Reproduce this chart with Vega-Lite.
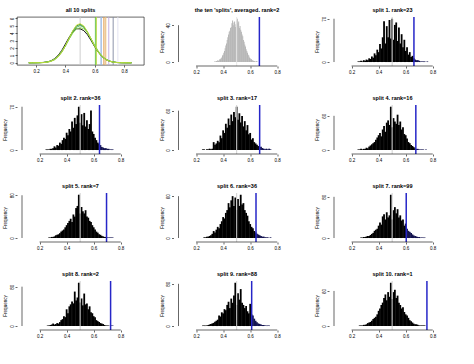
{
"$schema": "https://vega.github.io/schema/vega-lite/v6.json",
"background": "white",
"padding": {"left": 2, "top": 7, "right": 0, "bottom": 0},
"columns": 3,
"spacing": {"row": 21, "column": 13.5},
"datasets": {
"obs": [{"p":"s1","v":0.661},{"p":"s2","v":0.643},{"p":"s3","v":0.67},{"p":"s4","v":0.675},{"p":"s5","v":0.695},{"p":"s6","v":0.643},{"p":"s7","v":0.604},{"p":"s8","v":0.725},{"p":"s9","v":0.611},{"p":"s10","v":0.757},{"p":"avg","v":0.668}],
"d": [
{"c":"c1","x":0.15,"y":0},{"c":"c1","x":0.175,"y":0.002},{"c":"c1","x":0.2,"y":0.008},{"c":"c1","x":0.225,"y":0.02},{"c":"c1","x":0.25,"y":0.05},{"c":"c1","x":0.275,"y":0.12},{"c":"c1","x":0.3,"y":0.26},{"c":"c1","x":0.325,"y":0.55},{"c":"c1","x":0.35,"y":1.0},{"c":"c1","x":0.375,"y":1.68},{"c":"c1","x":0.4,"y":2.55},{"c":"c1","x":0.425,"y":3.45},{"c":"c1","x":0.45,"y":4.2},{"c":"c1","x":0.475,"y":4.6},{"c":"c1","x":0.5,"y":4.6},{"c":"c1","x":0.525,"y":4.35},{"c":"c1","x":0.55,"y":3.8},{"c":"c1","x":0.575,"y":3.0},{"c":"c1","x":0.6,"y":2.15},{"c":"c1","x":0.625,"y":1.4},{"c":"c1","x":0.65,"y":0.82},{"c":"c1","x":0.675,"y":0.44},{"c":"c1","x":0.7,"y":0.22},{"c":"c1","x":0.725,"y":0.1},{"c":"c1","x":0.75,"y":0.04},{"c":"c1","x":0.775,"y":0.015},{"c":"c1","x":0.8,"y":0.005},{"c":"c1","x":0.825,"y":0.001},{"c":"c1","x":0.85,"y":0},
{"c":"c2","x":0.15,"y":0},{"c":"c2","x":0.175,"y":0.001},{"c":"c2","x":0.2,"y":0.004},{"c":"c2","x":0.225,"y":0.012},{"c":"c2","x":0.25,"y":0.035},{"c":"c2","x":0.275,"y":0.09},{"c":"c2","x":0.3,"y":0.2},{"c":"c2","x":0.325,"y":0.42},{"c":"c2","x":0.35,"y":0.82},{"c":"c2","x":0.375,"y":1.45},{"c":"c2","x":0.4,"y":2.3},{"c":"c2","x":0.425,"y":3.3},{"c":"c2","x":0.45,"y":4.3},{"c":"c2","x":0.475,"y":5.0},{"c":"c2","x":0.5,"y":5.2},{"c":"c2","x":0.525,"y":4.9},{"c":"c2","x":0.55,"y":4.15},{"c":"c2","x":0.575,"y":3.2},{"c":"c2","x":0.6,"y":2.22},{"c":"c2","x":0.625,"y":1.42},{"c":"c2","x":0.65,"y":0.84},{"c":"c2","x":0.675,"y":0.45},{"c":"c2","x":0.7,"y":0.22},{"c":"c2","x":0.725,"y":0.1},{"c":"c2","x":0.75,"y":0.04},{"c":"c2","x":0.775,"y":0.014},{"c":"c2","x":0.8,"y":0.004},{"c":"c2","x":0.825,"y":0.001},{"c":"c2","x":0.85,"y":0},
{"c":"c3","x":0.15,"y":0},{"c":"c3","x":0.175,"y":0.001},{"c":"c3","x":0.2,"y":0.005},{"c":"c3","x":0.225,"y":0.014},{"c":"c3","x":0.25,"y":0.04},{"c":"c3","x":0.275,"y":0.1},{"c":"c3","x":0.3,"y":0.23},{"c":"c3","x":0.325,"y":0.47},{"c":"c3","x":0.35,"y":0.88},{"c":"c3","x":0.375,"y":1.5},{"c":"c3","x":0.4,"y":2.3},{"c":"c3","x":0.425,"y":3.25},{"c":"c3","x":0.45,"y":4.15},{"c":"c3","x":0.475,"y":4.8},{"c":"c3","x":0.5,"y":5.05},{"c":"c3","x":0.525,"y":4.8},{"c":"c3","x":0.55,"y":4.1},{"c":"c3","x":0.575,"y":3.15},{"c":"c3","x":0.6,"y":2.22},{"c":"c3","x":0.625,"y":1.44},{"c":"c3","x":0.65,"y":0.85},{"c":"c3","x":0.675,"y":0.46},{"c":"c3","x":0.7,"y":0.23},{"c":"c3","x":0.725,"y":0.1},{"c":"c3","x":0.75,"y":0.04},{"c":"c3","x":0.775,"y":0.013},{"c":"c3","x":0.8,"y":0.005},{"c":"c3","x":0.825,"y":0.001},{"c":"c3","x":0.85,"y":0},
{"c":"c4","x":0.15,"y":0},{"c":"c4","x":0.175,"y":0.002},{"c":"c4","x":0.2,"y":0.006},{"c":"c4","x":0.225,"y":0.016},{"c":"c4","x":0.25,"y":0.045},{"c":"c4","x":0.275,"y":0.11},{"c":"c4","x":0.3,"y":0.24},{"c":"c4","x":0.325,"y":0.5},{"c":"c4","x":0.35,"y":0.92},{"c":"c4","x":0.375,"y":1.55},{"c":"c4","x":0.4,"y":2.35},{"c":"c4","x":0.425,"y":3.2},{"c":"c4","x":0.45,"y":4.0},{"c":"c4","x":0.475,"y":4.6},{"c":"c4","x":0.5,"y":4.75},{"c":"c4","x":0.525,"y":4.6},{"c":"c4","x":0.55,"y":4.05},{"c":"c4","x":0.575,"y":3.25},{"c":"c4","x":0.6,"y":2.35},{"c":"c4","x":0.625,"y":1.55},{"c":"c4","x":0.65,"y":0.92},{"c":"c4","x":0.675,"y":0.5},{"c":"c4","x":0.7,"y":0.25},{"c":"c4","x":0.725,"y":0.11},{"c":"c4","x":0.75,"y":0.045},{"c":"c4","x":0.775,"y":0.015},{"c":"c4","x":0.8,"y":0.005},{"c":"c4","x":0.825,"y":0.001},{"c":"c4","x":0.85,"y":0},
{"c":"c5","x":0.15,"y":0},{"c":"c5","x":0.175,"y":0.001},{"c":"c5","x":0.2,"y":0.004},{"c":"c5","x":0.225,"y":0.01},{"c":"c5","x":0.25,"y":0.03},{"c":"c5","x":0.275,"y":0.08},{"c":"c5","x":0.3,"y":0.19},{"c":"c5","x":0.325,"y":0.4},{"c":"c5","x":0.35,"y":0.8},{"c":"c5","x":0.375,"y":1.42},{"c":"c5","x":0.4,"y":2.3},{"c":"c5","x":0.425,"y":3.35},{"c":"c5","x":0.45,"y":4.35},{"c":"c5","x":0.475,"y":5.1},{"c":"c5","x":0.5,"y":5.3},{"c":"c5","x":0.525,"y":5.0},{"c":"c5","x":0.55,"y":4.2},{"c":"c5","x":0.575,"y":3.2},{"c":"c5","x":0.6,"y":2.2},{"c":"c5","x":0.625,"y":1.38},{"c":"c5","x":0.65,"y":0.8},{"c":"c5","x":0.675,"y":0.42},{"c":"c5","x":0.7,"y":0.2},{"c":"c5","x":0.725,"y":0.09},{"c":"c5","x":0.75,"y":0.035},{"c":"c5","x":0.775,"y":0.012},{"c":"c5","x":0.8,"y":0.004},{"c":"c5","x":0.825,"y":0.001},{"c":"c5","x":0.85,"y":0}
],
"h": [
{"p":"avg","x":0.34,"n":1},{"p":"avg","x":0.35,"n":1},{"p":"avg","x":0.355,"n":1},{"p":"avg","x":0.36,"n":2},{"p":"avg","x":0.365,"n":1},{"p":"avg","x":0.37,"n":2},{"p":"avg","x":0.375,"n":3},{"p":"avg","x":0.38,"n":3},{"p":"avg","x":0.385,"n":4},{"p":"avg","x":0.39,"n":5},{"p":"avg","x":0.395,"n":7},{"p":"avg","x":0.4,"n":8},{"p":"avg","x":0.405,"n":10},{"p":"avg","x":0.41,"n":12},{"p":"avg","x":0.415,"n":15},{"p":"avg","x":0.42,"n":18},{"p":"avg","x":0.425,"n":20},{"p":"avg","x":0.43,"n":24},{"p":"avg","x":0.435,"n":27},{"p":"avg","x":0.44,"n":30},{"p":"avg","x":0.445,"n":33},{"p":"avg","x":0.45,"n":34},{"p":"avg","x":0.455,"n":37},{"p":"avg","x":0.46,"n":38},{"p":"avg","x":0.465,"n":42},{"p":"avg","x":0.47,"n":45},{"p":"avg","x":0.475,"n":40},{"p":"avg","x":0.48,"n":43},{"p":"avg","x":0.485,"n":44},{"p":"avg","x":0.49,"n":38},{"p":"avg","x":0.495,"n":41},{"p":"avg","x":0.5,"n":45},{"p":"avg","x":0.505,"n":47},{"p":"avg","x":0.51,"n":42},{"p":"avg","x":0.515,"n":44},{"p":"avg","x":0.52,"n":37},{"p":"avg","x":0.525,"n":39},{"p":"avg","x":0.53,"n":35},{"p":"avg","x":0.535,"n":33},{"p":"avg","x":0.54,"n":30},{"p":"avg","x":0.545,"n":28},{"p":"avg","x":0.55,"n":24},{"p":"avg","x":0.555,"n":22},{"p":"avg","x":0.56,"n":19},{"p":"avg","x":0.565,"n":17},{"p":"avg","x":0.57,"n":14},{"p":"avg","x":0.575,"n":12},{"p":"avg","x":0.58,"n":10},{"p":"avg","x":0.585,"n":8},{"p":"avg","x":0.59,"n":7},{"p":"avg","x":0.595,"n":5},{"p":"avg","x":0.6,"n":4},{"p":"avg","x":0.605,"n":3},{"p":"avg","x":0.61,"n":3},{"p":"avg","x":0.615,"n":2},{"p":"avg","x":0.62,"n":2},{"p":"avg","x":0.625,"n":1},{"p":"avg","x":0.63,"n":1},{"p":"avg","x":0.635,"n":1},{"p":"avg","x":0.645,"n":1},{"p":"avg","x":0.65,"n":1},
{"p":"s1","x":0.25,"n":1},{"p":"s1","x":0.26,"n":1},{"p":"s1","x":0.27,"n":2},{"p":"s1","x":0.28,"n":1},{"p":"s1","x":0.29,"n":3},{"p":"s1","x":0.3,"n":2},{"p":"s1","x":0.31,"n":4},{"p":"s1","x":0.32,"n":3},{"p":"s1","x":0.33,"n":6},{"p":"s1","x":0.34,"n":5},{"p":"s1","x":0.35,"n":9},{"p":"s1","x":0.36,"n":7},{"p":"s1","x":0.37,"n":14},{"p":"s1","x":0.38,"n":11},{"p":"s1","x":0.39,"n":20},{"p":"s1","x":0.4,"n":16},{"p":"s1","x":0.41,"n":29},{"p":"s1","x":0.42,"n":22},{"p":"s1","x":0.43,"n":40},{"p":"s1","x":0.44,"n":66},{"p":"s1","x":0.45,"n":30},{"p":"s1","x":0.46,"n":58},{"p":"s1","x":0.47,"n":40},{"p":"s1","x":0.48,"n":68},{"p":"s1","x":0.49,"n":38},{"p":"s1","x":0.5,"n":70},{"p":"s1","x":0.51,"n":36},{"p":"s1","x":0.52,"n":60},{"p":"s1","x":0.53,"n":64},{"p":"s1","x":0.54,"n":34},{"p":"s1","x":0.55,"n":56},{"p":"s1","x":0.56,"n":30},{"p":"s1","x":0.57,"n":45},{"p":"s1","x":0.58,"n":24},{"p":"s1","x":0.59,"n":36},{"p":"s1","x":0.6,"n":18},{"p":"s1","x":0.61,"n":24},{"p":"s1","x":0.62,"n":12},{"p":"s1","x":0.63,"n":16},{"p":"s1","x":0.64,"n":8},{"p":"s1","x":0.65,"n":10},{"p":"s1","x":0.66,"n":6},{"p":"s1","x":0.67,"n":4},{"p":"s1","x":0.68,"n":3},{"p":"s1","x":0.69,"n":3},{"p":"s1","x":0.7,"n":2},{"p":"s1","x":0.71,"n":1},{"p":"s1","x":0.72,"n":1},{"p":"s1","x":0.73,"n":1},{"p":"s1","x":0.74,"n":1},{"p":"s1","x":0.76,"n":1},
{"p":"s2","x":0.25,"n":1},{"p":"s2","x":0.26,"n":1},{"p":"s2","x":0.27,"n":1},{"p":"s2","x":0.28,"n":2},{"p":"s2","x":0.29,"n":2},{"p":"s2","x":0.3,"n":3},{"p":"s2","x":0.31,"n":6},{"p":"s2","x":0.32,"n":4},{"p":"s2","x":0.33,"n":8},{"p":"s2","x":0.34,"n":7},{"p":"s2","x":0.35,"n":12},{"p":"s2","x":0.36,"n":10},{"p":"s2","x":0.37,"n":16},{"p":"s2","x":0.38,"n":20},{"p":"s2","x":0.39,"n":18},{"p":"s2","x":0.4,"n":28},{"p":"s2","x":0.41,"n":24},{"p":"s2","x":0.42,"n":34},{"p":"s2","x":0.43,"n":30},{"p":"s2","x":0.44,"n":46},{"p":"s2","x":0.45,"n":36},{"p":"s2","x":0.46,"n":52},{"p":"s2","x":0.47,"n":42},{"p":"s2","x":0.48,"n":56},{"p":"s2","x":0.49,"n":70},{"p":"s2","x":0.5,"n":44},{"p":"s2","x":0.51,"n":58},{"p":"s2","x":0.52,"n":40},{"p":"s2","x":0.53,"n":60},{"p":"s2","x":0.54,"n":38},{"p":"s2","x":0.55,"n":48},{"p":"s2","x":0.56,"n":34},{"p":"s2","x":0.57,"n":42},{"p":"s2","x":0.58,"n":64},{"p":"s2","x":0.59,"n":30},{"p":"s2","x":0.6,"n":26},{"p":"s2","x":0.61,"n":20},{"p":"s2","x":0.62,"n":16},{"p":"s2","x":0.63,"n":12},{"p":"s2","x":0.64,"n":10},{"p":"s2","x":0.65,"n":8},{"p":"s2","x":0.66,"n":5},{"p":"s2","x":0.67,"n":4},{"p":"s2","x":0.68,"n":3},{"p":"s2","x":0.69,"n":3},{"p":"s2","x":0.7,"n":2},{"p":"s2","x":0.71,"n":2},{"p":"s2","x":0.72,"n":1},{"p":"s2","x":0.73,"n":1},{"p":"s2","x":0.74,"n":1},
{"p":"s3","x":0.25,"n":1},{"p":"s3","x":0.26,"n":1},{"p":"s3","x":0.28,"n":1},{"p":"s3","x":0.29,"n":1},{"p":"s3","x":0.3,"n":2},{"p":"s3","x":0.31,"n":1},{"p":"s3","x":0.32,"n":2},{"p":"s3","x":0.33,"n":12},{"p":"s3","x":0.34,"n":8},{"p":"s3","x":0.35,"n":10},{"p":"s3","x":0.36,"n":14},{"p":"s3","x":0.37,"n":12},{"p":"s3","x":0.38,"n":22},{"p":"s3","x":0.39,"n":18},{"p":"s3","x":0.4,"n":30},{"p":"s3","x":0.41,"n":26},{"p":"s3","x":0.42,"n":40},{"p":"s3","x":0.43,"n":34},{"p":"s3","x":0.44,"n":48},{"p":"s3","x":0.45,"n":38},{"p":"s3","x":0.46,"n":54},{"p":"s3","x":0.47,"n":44},{"p":"s3","x":0.48,"n":58},{"p":"s3","x":0.49,"n":50},{"p":"s3","x":0.5,"n":66},{"p":"s3","x":0.51,"n":46},{"p":"s3","x":0.52,"n":56},{"p":"s3","x":0.53,"n":42},{"p":"s3","x":0.54,"n":52},{"p":"s3","x":0.55,"n":36},{"p":"s3","x":0.56,"n":44},{"p":"s3","x":0.57,"n":30},{"p":"s3","x":0.58,"n":38},{"p":"s3","x":0.59,"n":24},{"p":"s3","x":0.6,"n":26},{"p":"s3","x":0.61,"n":16},{"p":"s3","x":0.62,"n":18},{"p":"s3","x":0.63,"n":12},{"p":"s3","x":0.64,"n":10},{"p":"s3","x":0.65,"n":8},{"p":"s3","x":0.66,"n":6},{"p":"s3","x":0.67,"n":4},{"p":"s3","x":0.68,"n":5},{"p":"s3","x":0.69,"n":3},{"p":"s3","x":0.7,"n":2},{"p":"s3","x":0.71,"n":1},{"p":"s3","x":0.72,"n":2},{"p":"s3","x":0.73,"n":1},{"p":"s3","x":0.74,"n":2},{"p":"s3","x":0.75,"n":1},
{"p":"s4","x":0.25,"n":1},{"p":"s4","x":0.26,"n":1},{"p":"s4","x":0.27,"n":2},{"p":"s4","x":0.28,"n":1},{"p":"s4","x":0.29,"n":2},{"p":"s4","x":0.3,"n":2},{"p":"s4","x":0.31,"n":4},{"p":"s4","x":0.32,"n":3},{"p":"s4","x":0.33,"n":6},{"p":"s4","x":0.34,"n":8},{"p":"s4","x":0.35,"n":10},{"p":"s4","x":0.36,"n":12},{"p":"s4","x":0.37,"n":14},{"p":"s4","x":0.38,"n":18},{"p":"s4","x":0.39,"n":22},{"p":"s4","x":0.4,"n":26},{"p":"s4","x":0.41,"n":30},{"p":"s4","x":0.42,"n":24},{"p":"s4","x":0.43,"n":36},{"p":"s4","x":0.44,"n":42},{"p":"s4","x":0.45,"n":32},{"p":"s4","x":0.46,"n":48},{"p":"s4","x":0.47,"n":52},{"p":"s4","x":0.48,"n":44},{"p":"s4","x":0.49,"n":76},{"p":"s4","x":0.5,"n":40},{"p":"s4","x":0.51,"n":56},{"p":"s4","x":0.52,"n":50},{"p":"s4","x":0.53,"n":46},{"p":"s4","x":0.54,"n":62},{"p":"s4","x":0.55,"n":44},{"p":"s4","x":0.56,"n":50},{"p":"s4","x":0.57,"n":36},{"p":"s4","x":0.58,"n":40},{"p":"s4","x":0.59,"n":28},{"p":"s4","x":0.6,"n":26},{"p":"s4","x":0.61,"n":20},{"p":"s4","x":0.62,"n":14},{"p":"s4","x":0.63,"n":12},{"p":"s4","x":0.64,"n":9},{"p":"s4","x":0.65,"n":7},{"p":"s4","x":0.66,"n":5},{"p":"s4","x":0.67,"n":3},{"p":"s4","x":0.68,"n":2},{"p":"s4","x":0.69,"n":2},{"p":"s4","x":0.7,"n":1},{"p":"s4","x":0.71,"n":1},{"p":"s4","x":0.72,"n":1},{"p":"s4","x":0.73,"n":1},{"p":"s4","x":0.75,"n":1},
{"p":"s5","x":0.27,"n":1},{"p":"s5","x":0.28,"n":1},{"p":"s5","x":0.29,"n":2},{"p":"s5","x":0.3,"n":2},{"p":"s5","x":0.31,"n":3},{"p":"s5","x":0.32,"n":5},{"p":"s5","x":0.33,"n":6},{"p":"s5","x":0.34,"n":7},{"p":"s5","x":0.35,"n":9},{"p":"s5","x":0.36,"n":12},{"p":"s5","x":0.37,"n":14},{"p":"s5","x":0.38,"n":16},{"p":"s5","x":0.39,"n":20},{"p":"s5","x":0.4,"n":24},{"p":"s5","x":0.41,"n":28},{"p":"s5","x":0.42,"n":32},{"p":"s5","x":0.43,"n":36},{"p":"s5","x":0.44,"n":30},{"p":"s5","x":0.45,"n":44},{"p":"s5","x":0.46,"n":40},{"p":"s5","x":0.47,"n":56},{"p":"s5","x":0.48,"n":60},{"p":"s5","x":0.49,"n":81},{"p":"s5","x":0.5,"n":46},{"p":"s5","x":0.51,"n":58},{"p":"s5","x":0.52,"n":50},{"p":"s5","x":0.53,"n":46},{"p":"s5","x":0.54,"n":52},{"p":"s5","x":0.55,"n":40},{"p":"s5","x":0.56,"n":38},{"p":"s5","x":0.57,"n":32},{"p":"s5","x":0.58,"n":30},{"p":"s5","x":0.59,"n":24},{"p":"s5","x":0.6,"n":20},{"p":"s5","x":0.61,"n":16},{"p":"s5","x":0.62,"n":12},{"p":"s5","x":0.63,"n":10},{"p":"s5","x":0.64,"n":7},{"p":"s5","x":0.65,"n":6},{"p":"s5","x":0.66,"n":4},{"p":"s5","x":0.67,"n":3},{"p":"s5","x":0.68,"n":2},{"p":"s5","x":0.69,"n":2},{"p":"s5","x":0.7,"n":1},{"p":"s5","x":0.71,"n":1},{"p":"s5","x":0.72,"n":1},{"p":"s5","x":0.73,"n":1},{"p":"s5","x":0.74,"n":1},
{"p":"s6","x":0.26,"n":1},{"p":"s6","x":0.27,"n":1},{"p":"s6","x":0.28,"n":2},{"p":"s6","x":0.29,"n":2},{"p":"s6","x":0.3,"n":3},{"p":"s6","x":0.31,"n":4},{"p":"s6","x":0.32,"n":6},{"p":"s6","x":0.33,"n":10},{"p":"s6","x":0.34,"n":8},{"p":"s6","x":0.35,"n":12},{"p":"s6","x":0.36,"n":16},{"p":"s6","x":0.37,"n":14},{"p":"s6","x":0.38,"n":20},{"p":"s6","x":0.39,"n":24},{"p":"s6","x":0.4,"n":30},{"p":"s6","x":0.41,"n":28},{"p":"s6","x":0.42,"n":36},{"p":"s6","x":0.43,"n":40},{"p":"s6","x":0.44,"n":50},{"p":"s6","x":0.45,"n":44},{"p":"s6","x":0.46,"n":54},{"p":"s6","x":0.47,"n":60},{"p":"s6","x":0.48,"n":46},{"p":"s6","x":0.49,"n":58},{"p":"s6","x":0.5,"n":40},{"p":"s6","x":0.51,"n":56},{"p":"s6","x":0.52,"n":46},{"p":"s6","x":0.53,"n":62},{"p":"s6","x":0.54,"n":48},{"p":"s6","x":0.55,"n":50},{"p":"s6","x":0.56,"n":40},{"p":"s6","x":0.57,"n":36},{"p":"s6","x":0.58,"n":32},{"p":"s6","x":0.59,"n":24},{"p":"s6","x":0.6,"n":20},{"p":"s6","x":0.61,"n":16},{"p":"s6","x":0.62,"n":14},{"p":"s6","x":0.63,"n":10},{"p":"s6","x":0.64,"n":8},{"p":"s6","x":0.65,"n":6},{"p":"s6","x":0.66,"n":5},{"p":"s6","x":0.67,"n":4},{"p":"s6","x":0.68,"n":3},{"p":"s6","x":0.69,"n":2},{"p":"s6","x":0.7,"n":2},{"p":"s6","x":0.71,"n":1},{"p":"s6","x":0.72,"n":1},{"p":"s6","x":0.73,"n":1},{"p":"s6","x":0.75,"n":1},
{"p":"s7","x":0.27,"n":1},{"p":"s7","x":0.28,"n":1},{"p":"s7","x":0.29,"n":2},{"p":"s7","x":0.3,"n":2},{"p":"s7","x":0.31,"n":3},{"p":"s7","x":0.32,"n":4},{"p":"s7","x":0.33,"n":4},{"p":"s7","x":0.34,"n":6},{"p":"s7","x":0.35,"n":8},{"p":"s7","x":0.36,"n":10},{"p":"s7","x":0.37,"n":14},{"p":"s7","x":0.38,"n":16},{"p":"s7","x":0.39,"n":18},{"p":"s7","x":0.4,"n":24},{"p":"s7","x":0.41,"n":30},{"p":"s7","x":0.42,"n":26},{"p":"s7","x":0.43,"n":42},{"p":"s7","x":0.44,"n":46},{"p":"s7","x":0.45,"n":36},{"p":"s7","x":0.46,"n":50},{"p":"s7","x":0.47,"n":40},{"p":"s7","x":0.48,"n":44},{"p":"s7","x":0.49,"n":84},{"p":"s7","x":0.5,"n":36},{"p":"s7","x":0.51,"n":54},{"p":"s7","x":0.52,"n":60},{"p":"s7","x":0.53,"n":48},{"p":"s7","x":0.54,"n":56},{"p":"s7","x":0.55,"n":40},{"p":"s7","x":0.56,"n":44},{"p":"s7","x":0.57,"n":34},{"p":"s7","x":0.58,"n":36},{"p":"s7","x":0.59,"n":24},{"p":"s7","x":0.6,"n":28},{"p":"s7","x":0.61,"n":18},{"p":"s7","x":0.62,"n":14},{"p":"s7","x":0.63,"n":12},{"p":"s7","x":0.64,"n":10},{"p":"s7","x":0.65,"n":7},{"p":"s7","x":0.66,"n":5},{"p":"s7","x":0.67,"n":4},{"p":"s7","x":0.68,"n":3},{"p":"s7","x":0.69,"n":2},{"p":"s7","x":0.7,"n":2},{"p":"s7","x":0.71,"n":1},{"p":"s7","x":0.72,"n":1},{"p":"s7","x":0.73,"n":1},{"p":"s7","x":0.74,"n":1},
{"p":"s8","x":0.26,"n":1},{"p":"s8","x":0.27,"n":1},{"p":"s8","x":0.28,"n":2},{"p":"s8","x":0.29,"n":3},{"p":"s8","x":0.3,"n":5},{"p":"s8","x":0.31,"n":3},{"p":"s8","x":0.32,"n":4},{"p":"s8","x":0.33,"n":6},{"p":"s8","x":0.34,"n":5},{"p":"s8","x":0.35,"n":8},{"p":"s8","x":0.36,"n":12},{"p":"s8","x":0.37,"n":14},{"p":"s8","x":0.38,"n":20},{"p":"s8","x":0.39,"n":18},{"p":"s8","x":0.4,"n":34},{"p":"s8","x":0.41,"n":26},{"p":"s8","x":0.42,"n":40},{"p":"s8","x":0.43,"n":44},{"p":"s8","x":0.44,"n":50},{"p":"s8","x":0.45,"n":46},{"p":"s8","x":0.46,"n":70},{"p":"s8","x":0.47,"n":52},{"p":"s8","x":0.48,"n":58},{"p":"s8","x":0.49,"n":88},{"p":"s8","x":0.5,"n":48},{"p":"s8","x":0.51,"n":56},{"p":"s8","x":0.52,"n":42},{"p":"s8","x":0.53,"n":66},{"p":"s8","x":0.54,"n":44},{"p":"s8","x":0.55,"n":46},{"p":"s8","x":0.56,"n":34},{"p":"s8","x":0.57,"n":40},{"p":"s8","x":0.58,"n":28},{"p":"s8","x":0.59,"n":26},{"p":"s8","x":0.6,"n":20},{"p":"s8","x":0.61,"n":18},{"p":"s8","x":0.62,"n":12},{"p":"s8","x":0.63,"n":10},{"p":"s8","x":0.64,"n":8},{"p":"s8","x":0.65,"n":6},{"p":"s8","x":0.66,"n":5},{"p":"s8","x":0.67,"n":4},{"p":"s8","x":0.68,"n":2},{"p":"s8","x":0.69,"n":1},{"p":"s8","x":0.7,"n":1},{"p":"s8","x":0.71,"n":1},{"p":"s8","x":0.73,"n":1},{"p":"s8","x":0.74,"n":1},
{"p":"s9","x":0.25,"n":1},{"p":"s9","x":0.26,"n":1},{"p":"s9","x":0.27,"n":1},{"p":"s9","x":0.28,"n":1},{"p":"s9","x":0.29,"n":2},{"p":"s9","x":0.3,"n":3},{"p":"s9","x":0.31,"n":4},{"p":"s9","x":0.32,"n":5},{"p":"s9","x":0.33,"n":6},{"p":"s9","x":0.34,"n":8},{"p":"s9","x":0.35,"n":10},{"p":"s9","x":0.36,"n":12},{"p":"s9","x":0.37,"n":20},{"p":"s9","x":0.38,"n":18},{"p":"s9","x":0.39,"n":26},{"p":"s9","x":0.4,"n":24},{"p":"s9","x":0.41,"n":32},{"p":"s9","x":0.42,"n":30},{"p":"s9","x":0.43,"n":40},{"p":"s9","x":0.44,"n":46},{"p":"s9","x":0.45,"n":34},{"p":"s9","x":0.46,"n":52},{"p":"s9","x":0.47,"n":44},{"p":"s9","x":0.48,"n":58},{"p":"s9","x":0.49,"n":82},{"p":"s9","x":0.5,"n":40},{"p":"s9","x":0.51,"n":62},{"p":"s9","x":0.52,"n":50},{"p":"s9","x":0.53,"n":70},{"p":"s9","x":0.54,"n":44},{"p":"s9","x":0.55,"n":40},{"p":"s9","x":0.56,"n":34},{"p":"s9","x":0.57,"n":38},{"p":"s9","x":0.58,"n":28},{"p":"s9","x":0.59,"n":24},{"p":"s9","x":0.6,"n":42},{"p":"s9","x":0.61,"n":22},{"p":"s9","x":0.62,"n":20},{"p":"s9","x":0.63,"n":14},{"p":"s9","x":0.64,"n":10},{"p":"s9","x":0.65,"n":7},{"p":"s9","x":0.66,"n":5},{"p":"s9","x":0.67,"n":4},{"p":"s9","x":0.68,"n":3},{"p":"s9","x":0.69,"n":2},{"p":"s9","x":0.7,"n":2},{"p":"s9","x":0.71,"n":1},{"p":"s9","x":0.72,"n":1},{"p":"s9","x":0.73,"n":1},{"p":"s9","x":0.74,"n":1},
{"p":"s10","x":0.26,"n":1},{"p":"s10","x":0.27,"n":1},{"p":"s10","x":0.28,"n":1},{"p":"s10","x":0.29,"n":2},{"p":"s10","x":0.3,"n":2},{"p":"s10","x":0.31,"n":3},{"p":"s10","x":0.32,"n":5},{"p":"s10","x":0.33,"n":6},{"p":"s10","x":0.34,"n":7},{"p":"s10","x":0.35,"n":9},{"p":"s10","x":0.36,"n":12},{"p":"s10","x":0.37,"n":14},{"p":"s10","x":0.38,"n":16},{"p":"s10","x":0.39,"n":20},{"p":"s10","x":0.4,"n":26},{"p":"s10","x":0.41,"n":30},{"p":"s10","x":0.42,"n":36},{"p":"s10","x":0.43,"n":40},{"p":"s10","x":0.44,"n":48},{"p":"s10","x":0.45,"n":54},{"p":"s10","x":0.46,"n":44},{"p":"s10","x":0.47,"n":58},{"p":"s10","x":0.48,"n":50},{"p":"s10","x":0.49,"n":74},{"p":"s10","x":0.5,"n":46},{"p":"s10","x":0.51,"n":58},{"p":"s10","x":0.52,"n":62},{"p":"s10","x":0.53,"n":48},{"p":"s10","x":0.54,"n":52},{"p":"s10","x":0.55,"n":40},{"p":"s10","x":0.56,"n":36},{"p":"s10","x":0.57,"n":30},{"p":"s10","x":0.58,"n":32},{"p":"s10","x":0.59,"n":24},{"p":"s10","x":0.6,"n":20},{"p":"s10","x":0.61,"n":18},{"p":"s10","x":0.62,"n":14},{"p":"s10","x":0.63,"n":10},{"p":"s10","x":0.64,"n":8},{"p":"s10","x":0.65,"n":6},{"p":"s10","x":0.66,"n":4},{"p":"s10","x":0.67,"n":3},{"p":"s10","x":0.68,"n":3},{"p":"s10","x":0.69,"n":2},{"p":"s10","x":0.7,"n":1},{"p":"s10","x":0.71,"n":1},{"p":"s10","x":0.72,"n":1},{"p":"s10","x":0.73,"n":1},{"p":"s10","x":0.74,"n":1}
]
},
"concat": [
{"title":"all 10 splits","width":127,"height":48,"view":{"stroke":"black","strokeWidth":0.6},
 "layer":[
  {"data":{"name":"obs"},"transform":[{"filter":"datum.p!='avg'"}],"mark":{"type":"rule","strokeWidth":0.9},
   "encoding":{"x":{"field":"v","type":"quantitative","scale":{"domain":[0.07,0.935],"nice":false,"zero":false},"axis":{"values":[0.2,0.4,0.6,0.8],"format":".1f","domain":false,"title":null}},
   "color":{"field":"p","type":"nominal","scale":{"domain":["s1","s2","s3","s4","s5","s6","s7","s8","s9","s10"],"range":["#e8a050","#a8c0e8","#d8b070","#f0c080","#c0a8e0","#98b8e0","#5cc040","#8088a0","#b8d840","#e0e0f0"]},"legend":null}}},
  {"data":{"values":[{}]},"mark":{"type":"rule","color":"#c8c8c8","strokeWidth":0.9},"encoding":{"x":{"datum":0.5}}},
  {"data":{"name":"d"},"mark":{"type":"line","strokeWidth":0.9},
   "encoding":{"x":{"field":"x","type":"quantitative"},"y":{"field":"y","type":"quantitative","scale":{"domain":[-0.3,6.2],"nice":false,"zero":false},"axis":{"values":[0,1,2,3,4,5,6],"domain":false,"title":null}},
   "color":{"field":"c","type":"nominal","scale":{"domain":["c1","c2","c3","c4","c5"],"range":["black","#1f7a1f","#3cb043","#8fd14f","#c5e03a"]},"legend":null}}}
 ],
 "resolve":{"scale":{"color":"independent"}}},
{"title":"the ten 'splits', averaged. rank=2","width":127,"height":49,
 "layer":[
  {"data":{"name":"h"},"transform":[{"filter":"datum.p=='avg'"}],"mark":{"type":"bar","width":0.95,"color":"#b4b4b4"},
   "encoding":{"x":{"field":"x","type":"quantitative","scale":{"domain":[0.07,0.935],"nice":false,"zero":false},"axis":{"values":[0.2,0.4,0.6,0.8],"format":".1f","domain":false,"title":null}},
   "y":{"field":"n","type":"quantitative","scale":{"domain":[-4.3,48.9],"nice":false,"zero":false},"axis":{"values":[0,10,20,30,40],"domain":false,"title":"Frequency"}}}},
  {"data":{"values":[{}]},"mark":{"type":"rule","color":"#e6e6e6","strokeWidth":1},"encoding":{"x":{"datum":0.5}}},
  {"data":{"name":"obs"},"transform":[{"filter":"datum.p=='avg'"}],"mark":{"type":"rule","color":"#2626c8","strokeWidth":1.5},"encoding":{"x":{"field":"v","type":"quantitative"}}},
  {"data":{"values":[{}]},"mark":{"type":"rule","color":"black","strokeWidth":0.6},"encoding":{"x":{"datum":0.2},"x2":{"datum":0.8},"y":{"datum":-4.3}}},
  {"data":{"values":[{}]},"mark":{"type":"rule","color":"black","strokeWidth":0.6},"encoding":{"x":{"datum":0.07},"y":{"datum":0},"y2":{"datum":40}}}
 ]},
{"title":"split 1. rank=23","width":127,"height":49,
 "layer":[
  {"data":{"name":"h"},"transform":[{"filter":"datum.p=='s1'"},{"lookup":"p","from":{"data":{"name":"obs"},"key":"p","fields":["v"]}}],"mark":{"type":"bar","width":1.8},
   "encoding":{"x":{"field":"x","type":"quantitative","scale":{"domain":[0.07,0.935],"nice":false,"zero":false},"axis":{"values":[0.2,0.4,0.6,0.8],"format":".1f","domain":false,"title":null}},
   "y":{"field":"n","type":"quantitative","scale":{"domain":[-6.4,72.8],"nice":false,"zero":false},"axis":{"values":[0,10,20,30,40,50,60,70],"domain":false,"title":"Frequency"}},
   "color":{"condition":{"test":"datum.x>=datum.v","value":"#141450"},"value":"black"}}},
  {"data":{"values":[{}]},"mark":{"type":"rule","color":"#d0d0d0","strokeWidth":1},"encoding":{"x":{"datum":0.5}}},
  {"data":{"name":"obs"},"transform":[{"filter":"datum.p=='s1'"}],"mark":{"type":"rule","color":"#2626c8","strokeWidth":1.5},"encoding":{"x":{"field":"v","type":"quantitative"}}},
  {"data":{"values":[{}]},"mark":{"type":"rule","color":"black","strokeWidth":0.6},"encoding":{"x":{"datum":0.2},"x2":{"datum":0.8},"y":{"datum":-6.4}}},
  {"data":{"values":[{}]},"mark":{"type":"rule","color":"black","strokeWidth":0.6},"encoding":{"x":{"datum":0.07},"y":{"datum":0},"y2":{"datum":70}}}
 ]},
{"title":"split 2. rank=36","width":127,"height":49,
 "layer":[
  {"data":{"name":"h"},"transform":[{"filter":"datum.p=='s2'"},{"lookup":"p","from":{"data":{"name":"obs"},"key":"p","fields":["v"]}}],"mark":{"type":"bar","width":1.8},
   "encoding":{"x":{"field":"x","type":"quantitative","scale":{"domain":[0.07,0.935],"nice":false,"zero":false},"axis":{"values":[0.2,0.4,0.6,0.8],"format":".1f","domain":false,"title":null}},
   "y":{"field":"n","type":"quantitative","scale":{"domain":[-6.4,72.8],"nice":false,"zero":false},"axis":{"values":[0,10,20,30,40,50,60,70],"domain":false,"title":"Frequency"}},
   "color":{"condition":{"test":"datum.x>=datum.v","value":"#141450"},"value":"black"}}},
  {"data":{"values":[{}]},"mark":{"type":"rule","color":"#d0d0d0","strokeWidth":1},"encoding":{"x":{"datum":0.5}}},
  {"data":{"name":"obs"},"transform":[{"filter":"datum.p=='s2'"}],"mark":{"type":"rule","color":"#2626c8","strokeWidth":1.5},"encoding":{"x":{"field":"v","type":"quantitative"}}},
  {"data":{"values":[{}]},"mark":{"type":"rule","color":"black","strokeWidth":0.6},"encoding":{"x":{"datum":0.2},"x2":{"datum":0.8},"y":{"datum":-6.4}}},
  {"data":{"values":[{}]},"mark":{"type":"rule","color":"black","strokeWidth":0.6},"encoding":{"x":{"datum":0.07},"y":{"datum":0},"y2":{"datum":70}}}
 ]},
{"title":"split 3. rank=17","width":127,"height":49,
 "layer":[
  {"data":{"name":"h"},"transform":[{"filter":"datum.p=='s3'"},{"lookup":"p","from":{"data":{"name":"obs"},"key":"p","fields":["v"]}}],"mark":{"type":"bar","width":1.8},
   "encoding":{"x":{"field":"x","type":"quantitative","scale":{"domain":[0.07,0.935],"nice":false,"zero":false},"axis":{"values":[0.2,0.4,0.6,0.8],"format":".1f","domain":false,"title":null}},
   "y":{"field":"n","type":"quantitative","scale":{"domain":[-6.1,68.6],"nice":false,"zero":false},"axis":{"values":[0,10,20,30,40,50,60],"domain":false,"title":"Frequency"}},
   "color":{"condition":{"test":"datum.x>=datum.v","value":"#141450"},"value":"black"}}},
  {"data":{"values":[{}]},"mark":{"type":"rule","color":"#d0d0d0","strokeWidth":1},"encoding":{"x":{"datum":0.5}}},
  {"data":{"name":"obs"},"transform":[{"filter":"datum.p=='s3'"}],"mark":{"type":"rule","color":"#2626c8","strokeWidth":1.5},"encoding":{"x":{"field":"v","type":"quantitative"}}},
  {"data":{"values":[{}]},"mark":{"type":"rule","color":"black","strokeWidth":0.6},"encoding":{"x":{"datum":0.2},"x2":{"datum":0.8},"y":{"datum":-6.1}}},
  {"data":{"values":[{}]},"mark":{"type":"rule","color":"black","strokeWidth":0.6},"encoding":{"x":{"datum":0.07},"y":{"datum":0},"y2":{"datum":60}}}
 ]},
{"title":"split 4. rank=16","width":127,"height":49,
 "layer":[
  {"data":{"name":"h"},"transform":[{"filter":"datum.p=='s4'"},{"lookup":"p","from":{"data":{"name":"obs"},"key":"p","fields":["v"]}}],"mark":{"type":"bar","width":1.8},
   "encoding":{"x":{"field":"x","type":"quantitative","scale":{"domain":[0.07,0.935],"nice":false,"zero":false},"axis":{"values":[0.2,0.4,0.6,0.8],"format":".1f","domain":false,"title":null}},
   "y":{"field":"n","type":"quantitative","scale":{"domain":[-7.0,79.0],"nice":false,"zero":false},"axis":{"values":[0,20,40,60],"domain":false,"title":"Frequency"}},
   "color":{"condition":{"test":"datum.x>=datum.v","value":"#141450"},"value":"black"}}},
  {"data":{"values":[{}]},"mark":{"type":"rule","color":"#d0d0d0","strokeWidth":1},"encoding":{"x":{"datum":0.5}}},
  {"data":{"name":"obs"},"transform":[{"filter":"datum.p=='s4'"}],"mark":{"type":"rule","color":"#2626c8","strokeWidth":1.5},"encoding":{"x":{"field":"v","type":"quantitative"}}},
  {"data":{"values":[{}]},"mark":{"type":"rule","color":"black","strokeWidth":0.6},"encoding":{"x":{"datum":0.2},"x2":{"datum":0.8},"y":{"datum":-7.0}}},
  {"data":{"values":[{}]},"mark":{"type":"rule","color":"black","strokeWidth":0.6},"encoding":{"x":{"datum":0.07},"y":{"datum":0},"y2":{"datum":60}}}
 ]},
{"title":"split 5. rank=7","width":127,"height":49,
 "layer":[
  {"data":{"name":"h"},"transform":[{"filter":"datum.p=='s5'"},{"lookup":"p","from":{"data":{"name":"obs"},"key":"p","fields":["v"]}}],"mark":{"type":"bar","width":1.8},
   "encoding":{"x":{"field":"x","type":"quantitative","scale":{"domain":[0.07,0.935],"nice":false,"zero":false},"axis":{"values":[0.2,0.4,0.6,0.8],"format":".1f","domain":false,"title":null}},
   "y":{"field":"n","type":"quantitative","scale":{"domain":[-7.5,84.2],"nice":false,"zero":false},"axis":{"values":[0,20,40,60,80],"domain":false,"title":"Frequency"}},
   "color":{"condition":{"test":"datum.x>=datum.v","value":"#141450"},"value":"black"}}},
  {"data":{"values":[{}]},"mark":{"type":"rule","color":"#d0d0d0","strokeWidth":1},"encoding":{"x":{"datum":0.5}}},
  {"data":{"name":"obs"},"transform":[{"filter":"datum.p=='s5'"}],"mark":{"type":"rule","color":"#2626c8","strokeWidth":1.5},"encoding":{"x":{"field":"v","type":"quantitative"}}},
  {"data":{"values":[{}]},"mark":{"type":"rule","color":"black","strokeWidth":0.6},"encoding":{"x":{"datum":0.2},"x2":{"datum":0.8},"y":{"datum":-7.5}}},
  {"data":{"values":[{}]},"mark":{"type":"rule","color":"black","strokeWidth":0.6},"encoding":{"x":{"datum":0.07},"y":{"datum":0},"y2":{"datum":80}}}
 ]},
{"title":"split 6. rank=36","width":127,"height":49,
 "layer":[
  {"data":{"name":"h"},"transform":[{"filter":"datum.p=='s6'"},{"lookup":"p","from":{"data":{"name":"obs"},"key":"p","fields":["v"]}}],"mark":{"type":"bar","width":1.8},
   "encoding":{"x":{"field":"x","type":"quantitative","scale":{"domain":[0.07,0.935],"nice":false,"zero":false},"axis":{"values":[0.2,0.4,0.6,0.8],"format":".1f","domain":false,"title":null}},
   "y":{"field":"n","type":"quantitative","scale":{"domain":[-5.7,64.5],"nice":false,"zero":false},"axis":{"values":[0,10,20,30,40,50,60],"domain":false,"title":"Frequency"}},
   "color":{"condition":{"test":"datum.x>=datum.v","value":"#141450"},"value":"black"}}},
  {"data":{"values":[{}]},"mark":{"type":"rule","color":"#d0d0d0","strokeWidth":1},"encoding":{"x":{"datum":0.5}}},
  {"data":{"name":"obs"},"transform":[{"filter":"datum.p=='s6'"}],"mark":{"type":"rule","color":"#2626c8","strokeWidth":1.5},"encoding":{"x":{"field":"v","type":"quantitative"}}},
  {"data":{"values":[{}]},"mark":{"type":"rule","color":"black","strokeWidth":0.6},"encoding":{"x":{"datum":0.2},"x2":{"datum":0.8},"y":{"datum":-5.7}}},
  {"data":{"values":[{}]},"mark":{"type":"rule","color":"black","strokeWidth":0.6},"encoding":{"x":{"datum":0.07},"y":{"datum":0},"y2":{"datum":60}}}
 ]},
{"title":"split 7. rank=99","width":127,"height":49,
 "layer":[
  {"data":{"name":"h"},"transform":[{"filter":"datum.p=='s7'"},{"lookup":"p","from":{"data":{"name":"obs"},"key":"p","fields":["v"]}}],"mark":{"type":"bar","width":1.8},
   "encoding":{"x":{"field":"x","type":"quantitative","scale":{"domain":[0.07,0.935],"nice":false,"zero":false},"axis":{"values":[0.2,0.4,0.6,0.8],"format":".1f","domain":false,"title":null}},
   "y":{"field":"n","type":"quantitative","scale":{"domain":[-7.7,87.4],"nice":false,"zero":false},"axis":{"values":[0,20,40,60,80],"domain":false,"title":"Frequency"}},
   "color":{"condition":{"test":"datum.x>=datum.v","value":"#141450"},"value":"black"}}},
  {"data":{"values":[{}]},"mark":{"type":"rule","color":"#d0d0d0","strokeWidth":1},"encoding":{"x":{"datum":0.5}}},
  {"data":{"name":"obs"},"transform":[{"filter":"datum.p=='s7'"}],"mark":{"type":"rule","color":"#2626c8","strokeWidth":1.5},"encoding":{"x":{"field":"v","type":"quantitative"}}},
  {"data":{"values":[{}]},"mark":{"type":"rule","color":"black","strokeWidth":0.6},"encoding":{"x":{"datum":0.2},"x2":{"datum":0.8},"y":{"datum":-7.7}}},
  {"data":{"values":[{}]},"mark":{"type":"rule","color":"black","strokeWidth":0.6},"encoding":{"x":{"datum":0.07},"y":{"datum":0},"y2":{"datum":80}}}
 ]},
{"title":"split 8. rank=2","width":127,"height":49,
 "layer":[
  {"data":{"name":"h"},"transform":[{"filter":"datum.p=='s8'"},{"lookup":"p","from":{"data":{"name":"obs"},"key":"p","fields":["v"]}}],"mark":{"type":"bar","width":1.8},
   "encoding":{"x":{"field":"x","type":"quantitative","scale":{"domain":[0.07,0.935],"nice":false,"zero":false},"axis":{"values":[0.2,0.4,0.6,0.8],"format":".1f","domain":false,"title":null}},
   "y":{"field":"n","type":"quantitative","scale":{"domain":[-8.1,91.5],"nice":false,"zero":false},"axis":{"values":[0,20,40,60,80],"domain":false,"title":"Frequency"}},
   "color":{"condition":{"test":"datum.x>=datum.v","value":"#141450"},"value":"black"}}},
  {"data":{"values":[{}]},"mark":{"type":"rule","color":"#d0d0d0","strokeWidth":1},"encoding":{"x":{"datum":0.5}}},
  {"data":{"name":"obs"},"transform":[{"filter":"datum.p=='s8'"}],"mark":{"type":"rule","color":"#2626c8","strokeWidth":1.5},"encoding":{"x":{"field":"v","type":"quantitative"}}},
  {"data":{"values":[{}]},"mark":{"type":"rule","color":"black","strokeWidth":0.6},"encoding":{"x":{"datum":0.2},"x2":{"datum":0.8},"y":{"datum":-8.1}}},
  {"data":{"values":[{}]},"mark":{"type":"rule","color":"black","strokeWidth":0.6},"encoding":{"x":{"datum":0.07},"y":{"datum":0},"y2":{"datum":80}}}
 ]},
{"title":"split 9. rank=88","width":127,"height":49,
 "layer":[
  {"data":{"name":"h"},"transform":[{"filter":"datum.p=='s9'"},{"lookup":"p","from":{"data":{"name":"obs"},"key":"p","fields":["v"]}}],"mark":{"type":"bar","width":1.8},
   "encoding":{"x":{"field":"x","type":"quantitative","scale":{"domain":[0.07,0.935],"nice":false,"zero":false},"axis":{"values":[0.2,0.4,0.6,0.8],"format":".1f","domain":false,"title":null}},
   "y":{"field":"n","type":"quantitative","scale":{"domain":[-7.5,85.3],"nice":false,"zero":false},"axis":{"values":[0,20,40,60,80],"domain":false,"title":"Frequency"}},
   "color":{"condition":{"test":"datum.x>=datum.v","value":"#141450"},"value":"black"}}},
  {"data":{"values":[{}]},"mark":{"type":"rule","color":"#d0d0d0","strokeWidth":1},"encoding":{"x":{"datum":0.5}}},
  {"data":{"name":"obs"},"transform":[{"filter":"datum.p=='s9'"}],"mark":{"type":"rule","color":"#2626c8","strokeWidth":1.5},"encoding":{"x":{"field":"v","type":"quantitative"}}},
  {"data":{"values":[{}]},"mark":{"type":"rule","color":"black","strokeWidth":0.6},"encoding":{"x":{"datum":0.2},"x2":{"datum":0.8},"y":{"datum":-7.5}}},
  {"data":{"values":[{}]},"mark":{"type":"rule","color":"black","strokeWidth":0.6},"encoding":{"x":{"datum":0.07},"y":{"datum":0},"y2":{"datum":80}}}
 ]},
{"title":"split 10. rank=1","width":127,"height":49,
 "layer":[
  {"data":{"name":"h"},"transform":[{"filter":"datum.p=='s10'"},{"lookup":"p","from":{"data":{"name":"obs"},"key":"p","fields":["v"]}}],"mark":{"type":"bar","width":1.8},
   "encoding":{"x":{"field":"x","type":"quantitative","scale":{"domain":[0.07,0.935],"nice":false,"zero":false},"axis":{"values":[0.2,0.4,0.6,0.8],"format":".1f","domain":false,"title":null}},
   "y":{"field":"n","type":"quantitative","scale":{"domain":[-6.8,77.0],"nice":false,"zero":false},"axis":{"values":[0,20,40,60],"domain":false,"title":"Frequency"}},
   "color":{"condition":{"test":"datum.x>=datum.v","value":"#141450"},"value":"black"}}},
  {"data":{"values":[{}]},"mark":{"type":"rule","color":"#d0d0d0","strokeWidth":1},"encoding":{"x":{"datum":0.5}}},
  {"data":{"name":"obs"},"transform":[{"filter":"datum.p=='s10'"}],"mark":{"type":"rule","color":"#2626c8","strokeWidth":1.5},"encoding":{"x":{"field":"v","type":"quantitative"}}},
  {"data":{"values":[{}]},"mark":{"type":"rule","color":"black","strokeWidth":0.6},"encoding":{"x":{"datum":0.2},"x2":{"datum":0.8},"y":{"datum":-6.8}}},
  {"data":{"values":[{}]},"mark":{"type":"rule","color":"black","strokeWidth":0.6},"encoding":{"x":{"datum":0.07},"y":{"datum":0},"y2":{"datum":60}}}
 ]}
],
"config": {
 "font": "Liberation Sans",
 "view": {"stroke": null},
 "title": {"fontSize": 5.5, "fontWeight": "bold", "offset": 3, "color": "black", "font": "Liberation Sans"},
 "axis": {"labelFontSize": 4.5, "titleFontSize": 4.5, "titleFontWeight": "normal", "tickSize": 2, "labelPadding": 1, "labelOverlap": false, "grid": false, "tickColor": "black", "labelColor": "black", "titleColor": "black", "tickWidth": 0.6, "labelFont": "Liberation Sans", "titleFont": "Liberation Sans"},
 "axisY": {"labelAngle": 270, "labelAlign": "center", "labelBaseline": "bottom", "titlePadding": 1.5}
}
}
